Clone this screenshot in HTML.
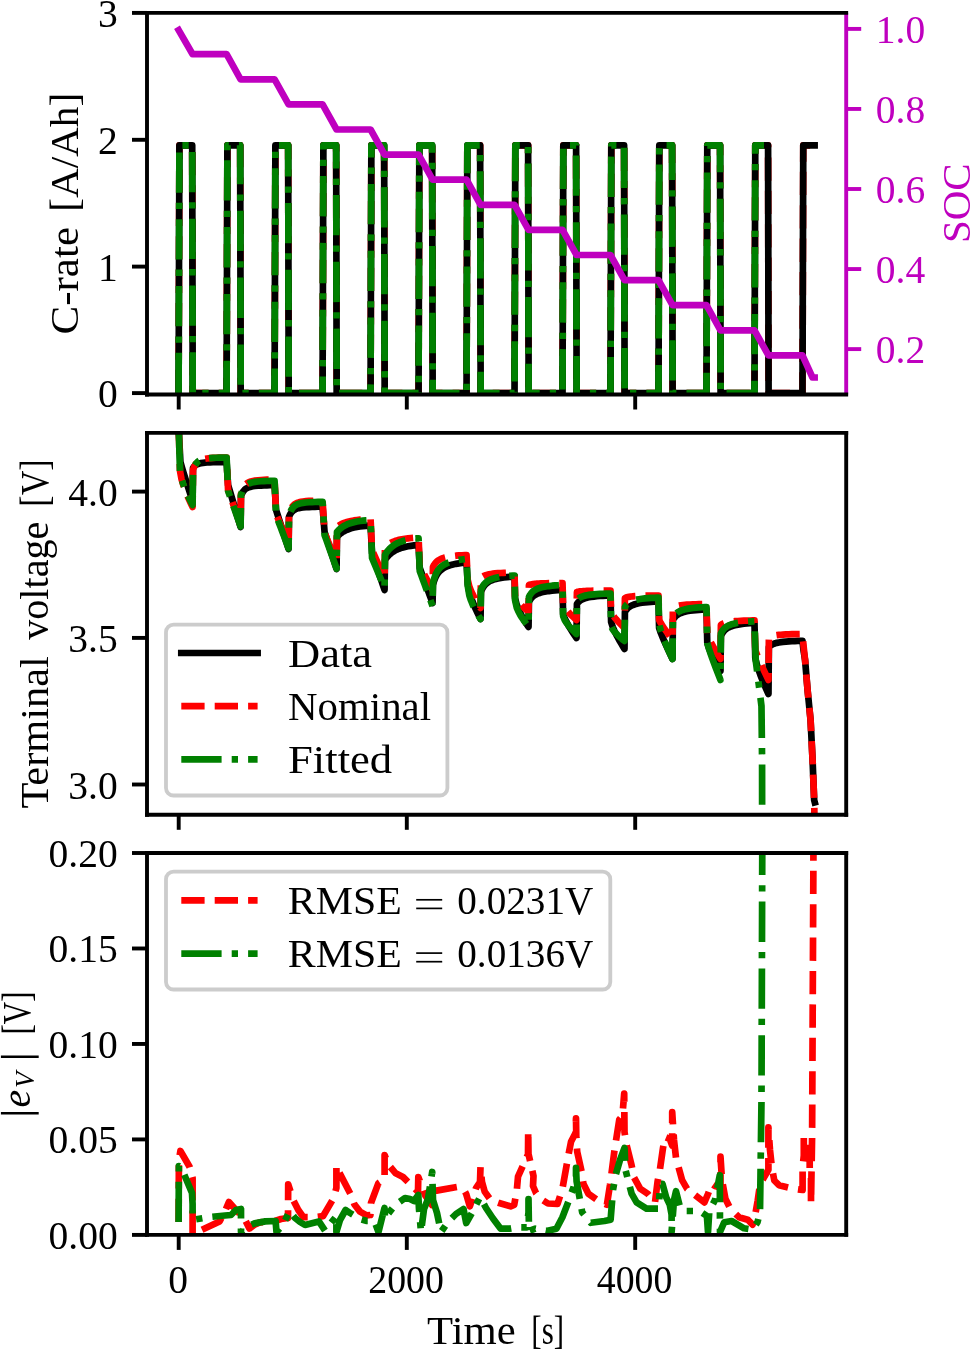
<!DOCTYPE html><html><head><meta charset="utf-8"><style>html,body{margin:0;padding:0;background:#fff}svg{display:block;will-change:transform}text{font-family:"Liberation Serif",serif}</style></head><body>
<svg width="971" height="1354" viewBox="0 0 971 1354">
<rect width="971" height="1354" fill="#fff"/>
<defs>
<clipPath id="ct"><rect x="147" y="12.9" width="699.2" height="381.6"/></clipPath>
<clipPath id="cm"><rect x="147" y="432.9" width="699.2" height="381.9"/></clipPath>
<clipPath id="cb"><rect x="147" y="853" width="699.2" height="381.9"/></clipPath>
</defs>
<polyline fill="none" stroke="#ff0000" stroke-width="6.7" stroke-linejoin="round" stroke-linecap="butt" stroke-dasharray="23.3 10.1" clip-path="url(#ct)" points="178.6,393.1 179.4,145.3 192.2,145.3 192.7,393.1 226.59,393.1 227.39,145.3 240.19,145.3 240.69,393.1 274.58,393.1 275.38,145.3 288.18,145.3 288.68,393.1 322.57,393.1 323.37,145.3 336.17,145.3 336.67,393.1 370.56,393.1 371.36,145.3 384.16,145.3 384.66,393.1 418.55,393.1 419.35,145.3 432.15,145.3 432.65,393.1 466.54,393.1 467.34,145.3 480.14,145.3 480.64,393.1 514.53,393.1 515.33,145.3 528.13,145.3 528.63,393.1 562.52,393.1 563.32,145.3 576.12,145.3 576.62,393.1 610.51,393.1 611.31,145.3 624.11,145.3 624.61,393.1 658.5,393.1 659.3,145.3 672.1,145.3 672.6,393.1 706.49,393.1 707.29,145.3 720.09,145.3 720.59,393.1 754.48,393.1 755.28,145.3 768.08,145.3 768.58,393.1 802.47,393.1 803.27,145.3 814.6,145.3"/>
<polyline fill="none" stroke="#000000" stroke-width="6.7" stroke-linejoin="round" stroke-linecap="square" clip-path="url(#ct)" points="178.6,393.1 179.4,145.3 192.2,145.3 192.7,393.1 226.59,393.1 227.39,145.3 240.19,145.3 240.69,393.1 274.58,393.1 275.38,145.3 288.18,145.3 288.68,393.1 322.57,393.1 323.37,145.3 336.17,145.3 336.67,393.1 370.56,393.1 371.36,145.3 384.16,145.3 384.66,393.1 418.55,393.1 419.35,145.3 432.15,145.3 432.65,393.1 466.54,393.1 467.34,145.3 480.14,145.3 480.64,393.1 514.53,393.1 515.33,145.3 528.13,145.3 528.63,393.1 562.52,393.1 563.32,145.3 576.12,145.3 576.62,393.1 610.51,393.1 611.31,145.3 624.11,145.3 624.61,393.1 658.5,393.1 659.3,145.3 672.1,145.3 672.6,393.1 706.49,393.1 707.29,145.3 720.09,145.3 720.59,393.1 754.48,393.1 755.28,145.3 768.08,145.3 768.58,393.1 802.47,393.1 803.27,145.3 814.6,145.3"/>
<polyline fill="none" stroke="#008000" stroke-width="6.7" stroke-linejoin="round" stroke-linecap="butt" stroke-dasharray="40.3 10.1 6.3 10.1" clip-path="url(#ct)" points="178.6,393.1 179.4,145.3 192.2,145.3 192.7,393.1 226.59,393.1 227.39,145.3 240.19,145.3 240.69,393.1 274.58,393.1 275.38,145.3 288.18,145.3 288.68,393.1 322.57,393.1 323.37,145.3 336.17,145.3 336.67,393.1 370.56,393.1 371.36,145.3 384.16,145.3 384.66,393.1 418.55,393.1 419.35,145.3 432.15,145.3 432.65,393.1 466.54,393.1 467.34,145.3 480.14,145.3 480.64,393.1 514.53,393.1 515.33,145.3 528.13,145.3 528.63,393.1 562.52,393.1 563.32,145.3 576.12,145.3 576.62,393.1 610.51,393.1 611.31,145.3 624.11,145.3 624.61,393.1 658.5,393.1 659.3,145.3 672.1,145.3 672.6,393.1 706.49,393.1 707.29,145.3 720.09,145.3 720.59,393.1 754.48,393.1 755.28,145.3 764,145.3"/>
<polyline fill="none" stroke="#bf00bf" stroke-width="6.7" stroke-linejoin="round" stroke-linecap="square" points="178.7,30.2 192.6,54.2 226.59,54.2 240.59,79.3 274.58,79.3 288.58,104.4 322.57,104.4 336.57,129.5 370.56,129.5 384.56,154.6 418.55,154.6 432.55,179.7 466.54,179.7 480.54,204.8 514.53,204.8 528.53,229.9 562.52,229.9 576.52,255 610.51,255 624.51,280.1 658.5,280.1 672.5,305.2 706.49,305.2 720.49,330.3 754.48,330.3 768.48,355.4 802.47,355.4 812.5,377.5 814.6,377.5"/>
<polyline fill="none" stroke="#000000" stroke-width="6.7" stroke-linejoin="round" stroke-linecap="square" clip-path="url(#cm)" points="178.3,431 178.8,431 180.4,462 181.93,467.41 183.45,472.45 184.97,477.36 186.5,482.19 188.03,486.95 189.55,491.67 191.08,496.35 192.6,501 193,468 193.6,467.16 194.2,466.45 195,465.68 196,464.93 197,464.37 198,463.93 199.5,463.46 201,463.12 203,462.82 205,462.61 207,462.46 210,462.31 213,462.2 216,462.13 219,462.08 222,462.04 225,462.01 226.59,462 228.09,485 229.65,490.25 231.22,495.5 232.78,500.75 234.34,506 235.9,511.25 237.47,516.5 239.03,521.75 240.59,527 240.99,496 241.59,494.48 242.19,493.21 242.99,491.83 243.99,490.48 244.99,489.46 245.99,488.68 247.49,487.82 248.99,487.22 250.99,486.67 252.99,486.29 254.99,486.03 257.99,485.75 260.99,485.56 263.99,485.43 266.99,485.34 269.99,485.27 272.99,485.22 274.58,485.2 276.08,510 277.64,514.88 279.2,519.75 280.77,524.62 282.33,529.5 283.89,534.38 285.45,539.25 287.02,544.12 288.58,549 288.98,517 289.58,515.55 290.18,514.34 290.98,513.02 291.98,511.74 292.98,510.77 293.98,510.02 295.48,509.2 296.98,508.63 298.98,508.1 300.98,507.74 302.98,507.49 305.98,507.22 308.98,507.05 311.98,506.92 314.98,506.83 317.98,506.77 320.98,506.72 322.57,506.7 324.57,532 326.07,536.62 327.57,541.25 329.07,545.88 330.57,550.5 332.07,555.12 333.57,559.75 335.07,564.38 336.57,569 336.97,537 337.57,536.31 338.17,535.66 338.97,534.87 339.97,533.98 340.97,533.18 341.97,532.47 343.47,531.52 344.97,530.7 346.97,529.77 348.97,529 350.97,528.35 353.97,527.57 356.97,526.97 359.97,526.5 362.97,526.13 365.97,525.84 368.97,525.6 370.56,525.5 372.06,553 373.62,557.62 375.19,562.25 376.75,566.88 378.31,571.5 379.87,576.12 381.44,580.75 383,585.38 384.56,590 384.96,560 385.56,559.1 386.16,558.26 386.96,557.23 387.96,556.06 388.96,555.02 389.96,554.09 391.46,552.85 392.96,551.78 394.96,550.57 396.96,549.56 398.96,548.72 401.96,547.7 404.96,546.91 407.96,546.3 410.96,545.82 413.96,545.44 416.96,545.14 418.55,545 419.75,568 421.35,572.38 422.95,576.75 424.55,581.12 426.15,585.5 427.75,589.88 429.35,594.25 430.95,598.62 432.55,603 432.95,585 433.55,582.78 434.15,580.87 434.95,578.7 435.95,576.47 436.95,574.66 437.95,573.17 439.45,571.37 440.95,569.95 442.95,568.47 444.95,567.31 446.95,566.38 449.95,565.3 452.95,564.47 455.95,563.84 458.95,563.34 461.95,562.95 464.95,562.64 466.54,562.5 467.74,584 469.34,592.16 470.94,597.26 472.54,601.62 474.14,605.55 475.74,609.19 477.34,612.62 478.94,615.88 480.54,619 480.94,592 481.54,590.47 482.14,589.15 482.94,587.66 483.94,586.12 484.94,584.88 485.94,583.85 487.44,582.61 488.94,581.63 490.94,580.61 492.94,579.81 494.94,579.17 497.94,578.43 500.94,577.86 503.94,577.42 506.94,577.08 509.94,576.81 512.94,576.6 514.53,576.5 515.03,598 516.72,604.76 518.4,608.99 520.09,612.6 521.78,615.85 523.47,618.87 525.15,621.71 526.84,624.41 528.53,627 528.93,602 529.53,600.82 530.13,599.8 530.93,598.64 531.93,597.45 532.93,596.49 533.93,595.69 535.43,594.73 536.93,593.97 538.93,593.18 540.93,592.57 542.93,592.07 545.93,591.49 548.93,591.05 551.93,590.71 554.93,590.45 557.93,590.24 560.93,590.07 562.52,590 563.12,614 564.79,618.55 566.47,621.92 568.14,624.95 569.82,627.78 571.5,630.48 573.17,633.07 574.85,635.57 576.52,638 576.92,604 577.52,603.16 578.12,602.44 578.92,601.62 579.92,600.78 580.92,600.09 581.92,599.53 583.42,598.85 584.92,598.31 586.92,597.75 588.92,597.32 590.92,596.97 593.92,596.56 596.92,596.25 599.92,596.01 602.92,595.82 605.92,595.67 608.92,595.55 610.51,595.5 611.11,622 612.78,627.12 614.46,630.91 616.13,634.32 617.81,637.51 619.49,640.54 621.16,643.45 622.84,646.26 624.51,649 624.91,612 625.51,610.97 626.11,610.07 626.91,609.06 627.91,608.02 628.91,607.17 629.91,606.48 631.41,605.64 632.91,604.98 634.91,604.28 636.91,603.74 638.91,603.31 641.91,602.8 644.91,602.42 647.91,602.12 650.91,601.89 653.91,601.71 656.91,601.57 658.5,601.5 659.1,628 660.77,632.77 662.45,636.9 664.12,640.82 665.8,644.61 667.48,648.31 669.15,651.93 670.83,655.49 672.5,659 672.9,620 673.5,618.97 674.1,618.07 674.9,617.06 675.9,616.02 676.9,615.17 677.9,614.48 679.4,613.64 680.9,612.98 682.9,612.28 684.9,611.74 686.9,611.31 689.9,610.8 692.9,610.42 695.9,610.12 698.9,609.89 701.9,609.71 704.9,609.57 706.49,609.5 707.29,643 708.94,648.31 710.59,652.24 712.24,655.78 713.89,659.08 715.54,662.22 717.19,665.24 718.84,668.16 720.49,671 720.89,636 721.49,634.72 722.09,633.61 722.89,632.36 723.89,631.07 724.89,630.03 725.89,629.16 727.39,628.12 728.89,627.3 730.89,626.45 732.89,625.78 734.89,625.24 737.89,624.62 740.89,624.14 743.89,623.77 746.89,623.49 749.89,623.26 752.89,623.08 754.48,623 755.28,658 756.93,664.82 758.58,669.88 760.23,674.43 761.88,678.68 763.53,682.72 765.18,686.6 766.83,690.35 768.48,694 768.88,647 769.48,646.39 770.08,645.86 770.88,645.26 771.88,644.65 772.88,644.15 773.88,643.74 775.38,643.24 776.88,642.85 778.88,642.44 780.88,642.13 782.88,641.87 785.88,641.57 788.88,641.34 791.88,641.17 794.88,641.03 797.88,640.92 800.88,640.84 802.47,640.8 803.47,650 805.07,660 807.57,690 810.57,720 812.57,760 814.17,800 814.77,802.3"/>
<polyline fill="none" stroke="#ff0000" stroke-width="6.7" stroke-linejoin="round" stroke-linecap="butt" stroke-dasharray="23.3 10.1" clip-path="url(#cm)" points="178.3,431 178.8,431 180,471 181.57,479.4 183.15,484.64 184.72,489.12 186.3,493.16 187.88,496.91 189.45,500.43 191.03,503.79 192.6,507 193,470 193.6,468.24 194.2,466.77 195,465.17 196,463.61 197,462.43 198,461.53 199.5,460.54 201,459.84 203,459.2 205,458.76 207,458.46 210,458.14 213,457.92 216,457.77 219,457.66 222,457.58 225,457.53 226.59,457.5 228.09,490 229.65,494.38 231.22,498.75 232.78,503.12 234.34,507.5 235.9,511.88 237.47,516.25 239.03,520.62 240.59,525 240.99,494 241.59,491.96 242.19,490.25 242.99,488.4 243.99,486.59 244.99,485.22 245.99,484.17 247.49,483.02 248.99,482.21 250.99,481.47 252.99,480.97 254.99,480.61 257.99,480.24 260.99,479.99 263.99,479.82 266.99,479.69 269.99,479.6 272.99,479.53 274.58,479.5 276.08,514 277.64,517.75 279.2,521.5 280.77,525.25 282.33,529 283.89,532.75 285.45,536.5 287.02,540.25 288.58,544 288.98,514 289.58,512.1 290.18,510.51 290.98,508.78 291.98,507.1 292.98,505.83 293.98,504.85 295.48,503.78 296.98,503.03 298.98,502.33 300.98,501.87 302.98,501.53 305.98,501.19 308.98,500.96 311.98,500.79 314.98,500.68 317.98,500.59 320.98,500.53 322.57,500.5 324.57,533 326.07,536.62 327.57,540.25 329.07,543.88 330.57,547.5 332.07,551.12 333.57,554.75 335.07,558.38 336.57,562 336.97,527 337.57,526.52 338.17,526.07 338.97,525.52 339.97,524.9 340.97,524.35 341.97,523.85 343.47,523.19 344.97,522.61 346.97,521.97 348.97,521.43 350.97,520.98 353.97,520.44 356.97,520.02 359.97,519.69 362.97,519.44 365.97,519.23 368.97,519.07 370.56,519 372.06,550 373.62,553.56 375.19,557.12 376.75,560.69 378.31,564.25 379.87,567.81 381.44,571.38 383,574.94 384.56,578.5 384.96,547 385.56,546.43 386.16,545.9 386.96,545.24 387.96,544.51 388.96,543.85 389.96,543.25 391.46,542.47 392.96,541.79 394.96,541.03 396.96,540.39 398.96,539.85 401.96,539.21 404.96,538.71 407.96,538.32 410.96,538.02 413.96,537.78 416.96,537.59 418.55,537.5 419.75,566 421.35,569 422.95,572 424.55,575 426.15,578 427.75,581 429.35,584 430.95,587 432.55,590 432.95,567 433.55,565.82 434.15,564.8 434.95,563.64 435.95,562.45 436.95,561.49 437.95,560.69 439.45,559.73 440.95,558.97 442.95,558.18 444.95,557.57 446.95,557.07 449.95,556.49 452.95,556.05 455.95,555.71 458.95,555.45 461.95,555.24 464.95,555.07 466.54,555 467.74,580 469.34,586.53 470.94,590.61 472.54,594.09 474.14,597.24 475.74,600.15 477.34,602.89 478.94,605.5 480.54,608 480.94,578 481.54,577.46 482.14,576.99 482.94,576.46 483.94,575.91 484.94,575.47 485.94,575.11 487.44,574.67 488.94,574.32 490.94,573.96 492.94,573.68 494.94,573.45 497.94,573.18 500.94,572.98 503.94,572.83 506.94,572.71 509.94,572.61 512.94,572.53 514.53,572.5 515.03,596 516.72,599.66 518.4,601.95 520.09,603.9 521.78,605.66 523.47,607.3 525.15,608.84 526.84,610.3 528.53,611.7 528.93,585 529.53,584.8 530.13,584.63 530.93,584.44 531.93,584.24 532.93,584.08 533.93,583.95 535.43,583.79 536.93,583.66 538.93,583.53 540.93,583.43 542.93,583.35 545.93,583.25 548.93,583.18 551.93,583.12 554.93,583.07 557.93,583.04 560.93,583.01 562.52,583 563.12,605 564.79,607.84 566.47,609.95 568.14,611.84 569.82,613.62 571.5,615.3 573.17,616.92 574.85,618.48 576.52,620 576.92,592 577.52,591.85 578.12,591.72 578.92,591.58 579.92,591.43 580.92,591.31 581.92,591.21 583.42,591.09 584.92,591 586.92,590.9 588.92,590.82 590.92,590.76 593.92,590.69 596.92,590.63 599.92,590.59 602.92,590.56 605.92,590.53 608.92,590.51 610.51,590.5 611.11,612 612.78,615.03 614.46,617.28 616.13,619.3 617.81,621.19 619.49,622.99 621.16,624.71 622.84,626.38 624.51,628 624.91,598 625.51,597.75 626.11,597.54 626.91,597.3 627.91,597.05 628.91,596.85 629.91,596.69 631.41,596.49 632.91,596.33 634.91,596.16 636.91,596.03 638.91,595.93 641.91,595.81 644.91,595.72 647.91,595.65 650.91,595.59 653.91,595.55 656.91,595.52 658.5,595.5 659.1,620 660.77,623.08 662.45,625.74 664.12,628.27 665.8,630.72 667.48,633.1 669.15,635.44 670.83,637.74 672.5,640 672.9,608 673.5,607.61 674.1,607.27 674.9,606.88 675.9,606.48 676.9,606.16 677.9,605.9 679.4,605.58 680.9,605.32 682.9,605.06 684.9,604.86 686.9,604.69 689.9,604.5 692.9,604.35 695.9,604.24 698.9,604.15 701.9,604.08 704.9,604.02 706.49,604 707.29,635 708.94,638.69 710.59,641.89 712.24,644.93 713.89,647.86 715.54,650.72 717.19,653.53 718.84,656.28 720.49,659 720.89,625 721.49,624.55 722.09,624.16 722.89,623.71 723.89,623.26 724.89,622.89 725.89,622.58 727.39,622.21 728.89,621.92 730.89,621.62 732.89,621.38 734.89,621.19 737.89,620.97 740.89,620.8 743.89,620.67 746.89,620.57 749.89,620.49 752.89,620.43 754.48,620.4 755.28,650 756.93,654.62 758.58,658.62 760.23,662.41 761.88,666.08 763.53,669.65 765.18,673.16 766.83,676.6 768.48,680 768.88,637.5 769.48,637.16 770.08,636.86 770.88,636.52 771.88,636.17 772.88,635.89 773.88,635.66 775.38,635.38 776.88,635.16 778.88,634.93 780.88,634.75 782.88,634.6 785.88,634.43 788.88,634.31 791.88,634.21 794.88,634.13 797.88,634.07 800.88,634.02 802.47,634 803.47,645 805.07,660 807.57,690 810.57,720 812.57,760 814.17,800 814.97,850"/>
<polyline fill="none" stroke="#008000" stroke-width="6.7" stroke-linejoin="round" stroke-linecap="butt" stroke-dasharray="40.3 10.1 6.3 10.1" clip-path="url(#cm)" points="178.3,431 178.8,431 180,471 181.57,478.93 183.15,483.88 184.72,488.11 186.3,491.93 187.88,495.47 189.45,498.8 191.03,501.97 192.6,505 193,470 193.6,468.24 194.2,466.77 195,465.17 196,463.61 197,462.43 198,461.53 199.5,460.54 201,459.84 203,459.2 205,458.76 207,458.46 210,458.14 213,457.92 216,457.77 219,457.66 222,457.58 225,457.53 226.59,457.5 228.09,491 229.65,495.43 231.22,499.85 232.78,504.27 234.34,508.7 235.9,513.12 237.47,517.55 239.03,521.98 240.59,526.4 240.99,495 241.59,493 242.19,491.33 242.99,489.51 243.99,487.75 244.99,486.41 245.99,485.38 247.49,484.25 248.99,483.46 250.99,482.73 252.99,482.24 254.99,481.89 257.99,481.52 260.99,481.28 263.99,481.11 266.99,480.99 269.99,480.9 272.99,480.83 274.58,480.8 276.08,515.3 277.64,519.42 279.2,523.55 280.77,527.67 282.33,531.8 283.89,535.92 285.45,540.05 287.02,544.17 288.58,548.3 288.98,516 289.58,514 290.18,512.33 290.98,510.51 291.98,508.75 292.98,507.41 293.98,506.38 295.48,505.25 296.98,504.46 298.98,503.73 300.98,503.24 302.98,502.89 305.98,502.52 308.98,502.28 311.98,502.11 314.98,501.99 317.98,501.9 320.98,501.83 322.57,501.8 324.57,535 326.07,539.19 327.57,543.38 329.07,547.56 330.57,551.75 332.07,555.94 333.57,560.12 335.07,564.31 336.57,568.5 336.97,532 337.57,531.28 338.17,530.6 338.97,529.78 339.97,528.85 340.97,528.02 341.97,527.27 343.47,526.28 344.97,525.42 346.97,524.45 348.97,523.65 350.97,522.97 353.97,522.16 356.97,521.53 359.97,521.04 362.97,520.66 365.97,520.35 368.97,520.11 370.56,520 372.06,558 373.62,561.75 375.19,565.5 376.75,569.25 378.31,573 379.87,576.75 381.44,580.5 383,584.25 384.56,588 384.96,555 385.56,553.99 386.16,553.06 386.96,551.91 387.96,550.62 388.96,549.46 389.96,548.42 391.46,547.04 392.96,545.85 394.96,544.5 396.96,543.38 398.96,542.44 401.96,541.31 404.96,540.43 407.96,539.75 410.96,539.21 413.96,538.79 416.96,538.45 418.55,538.3 419.75,571 421.35,575.38 422.95,579.75 424.55,584.12 426.15,588.5 427.75,592.88 429.35,597.25 430.95,601.62 432.55,606 432.95,583 433.55,580.64 434.15,578.59 434.95,576.28 435.95,573.9 436.95,571.97 437.95,570.38 439.45,568.46 440.95,566.95 442.95,565.37 444.95,564.13 446.95,563.14 449.95,561.98 452.95,561.1 455.95,560.43 458.95,559.9 461.95,559.48 464.95,559.15 466.54,559 467.74,586 469.34,595.48 470.94,600.36 472.54,604.32 474.14,607.77 475.74,610.89 477.34,613.77 478.94,616.46 480.54,619 480.94,590 481.54,588.57 482.14,587.34 482.94,585.94 483.94,584.5 484.94,583.34 485.94,582.37 487.44,581.22 488.94,580.3 490.94,579.35 492.94,578.6 494.94,578 497.94,577.3 500.94,576.77 503.94,576.36 506.94,576.04 509.94,575.79 512.94,575.59 514.53,575.5 515.03,600 516.72,607.61 518.4,611.53 520.09,614.71 521.78,617.48 523.47,619.99 525.15,622.3 526.84,624.46 528.53,626.5 528.93,597 529.53,595.82 530.13,594.8 530.93,593.64 531.93,592.45 532.93,591.49 533.93,590.69 535.43,589.73 536.93,588.97 538.93,588.18 540.93,587.57 542.93,587.07 545.93,586.49 548.93,586.05 551.93,585.71 554.93,585.45 557.93,585.24 560.93,585.07 562.52,585 563.12,616 564.79,620.2 566.47,622.82 568.14,625.06 569.82,627.08 571.5,628.95 573.17,630.72 574.85,632.39 576.52,634 576.92,600 577.52,599.36 578.12,598.81 578.92,598.18 579.92,597.54 580.92,597.01 581.92,596.58 583.42,596.06 584.92,595.65 586.92,595.22 588.92,594.89 590.92,594.62 593.92,594.31 596.92,594.07 599.92,593.89 602.92,593.74 605.92,593.63 608.92,593.54 610.51,593.5 611.11,626 612.78,629.5 614.46,631.68 616.13,633.55 617.81,635.23 619.49,636.79 621.16,638.26 622.84,639.66 624.51,641 624.91,607 625.51,606.07 626.11,605.27 626.91,604.37 627.91,603.44 628.91,602.68 629.91,602.06 631.41,601.3 632.91,600.71 634.91,600.09 636.91,599.61 638.91,599.22 641.91,598.77 644.91,598.42 647.91,598.16 650.91,597.95 653.91,597.79 656.91,597.66 658.5,597.6 659.1,624 660.77,630.63 662.45,635.55 664.12,639.97 665.8,644.1 667.48,648.03 669.15,651.8 670.83,655.45 672.5,659 672.9,618 673.5,616.92 674.1,615.98 674.9,614.92 675.9,613.83 676.9,612.94 677.9,612.22 679.4,611.34 680.9,610.64 682.9,609.92 684.9,609.35 686.9,608.9 689.9,608.37 692.9,607.96 695.9,607.65 698.9,607.41 701.9,607.22 704.9,607.07 706.49,607 707.29,643 708.94,648.69 710.59,653.63 712.24,658.3 713.89,662.83 715.54,667.24 717.19,671.56 718.84,675.81 720.49,680 720.89,633.5 721.49,632.3 722.09,631.26 722.89,630.08 723.89,628.87 724.89,627.89 725.89,627.08 727.39,626.11 728.89,625.34 730.89,624.54 732.89,623.91 734.89,623.41 737.89,622.82 740.89,622.37 743.89,622.03 746.89,621.76 749.89,621.55 752.89,621.38 754.48,621.3 755.68,660 761.48,706 762.08,760 762.28,1000"/>
<polyline fill="none" stroke="#ff0000" stroke-width="6.7" stroke-linejoin="round" stroke-linecap="butt" stroke-dasharray="23.3 10.1" clip-path="url(#cb)" points="178.6,1222 178.9,1160 180.4,1151 184.5,1158 189.7,1167 192.6,1178 192.6,1233 196,1234 200,1230.6 210,1226 219.6,1221.4 224.7,1212 228.9,1202 236,1210 244.3,1218.3 249.4,1228.6 254,1225 259.7,1222.4 270,1221.5 275,1221 281,1219 288,1218 288.2,1184.3 293.1,1199.7 298.3,1210 303.4,1217.2 314.7,1217.2 323,1216.2 333.3,1198.7 336.4,1188 336.4,1165.7 338,1170 350.8,1194.6 354.3,1204.2 360,1211.6 366.6,1215.3 370.4,1215 371,1203 378.4,1183.2 384.6,1179 384.6,1155 388.3,1164.6 395.7,1173.3 403,1177 418,1191.8 418.3,1177 425.3,1195.5 432,1205 432.4,1190 436.5,1190.6 457.5,1186.9 464,1190 466.2,1194 469.8,1206.4 472,1200 476,1188 480,1182 480.5,1167 482,1182 484.7,1191.6 490.8,1200.2 498.3,1202.7 510.6,1206.4 514.2,1205 516.8,1190.3 518,1176.7 528,1154.5 528.2,1131 528.5,1154 533.5,1176 533,1186 536,1193 541,1199 548,1203.5 557.5,1204 562.4,1188.8 568.6,1154.2 571,1141.8 575.4,1133.2 576,1118.3 576.3,1138 577.2,1151.7 581.6,1171.5 583.4,1183.8 588.4,1193.7 597,1199.9 606.9,1204.8 610,1185 614.3,1151.7 619.3,1119.6 622.4,1115.8 624.2,1093.6 624.5,1132 626.7,1145.5 631.6,1165.3 634.1,1177.7 640.3,1188.8 647.7,1193.7 655,1202.4 657.6,1181.4 660,1169 663,1148 665,1137 669.8,1139 672.2,1145.5 672.2,1112.1 674,1140 676,1157.9 682.1,1180.1 687.1,1188.8 704.4,1202.4 708.1,1193.7 711.8,1183.8 715,1186 720.5,1187.5 720.5,1156.6 722,1180 725.4,1198.7 730.3,1208.6 739,1217.2 747.7,1219.7 752.6,1224.6 755.4,1213.6 757.7,1200.6 760.1,1184 768.4,1169.8 768.4,1127.3 770,1150 771.9,1167.5 774.3,1180.5 779,1185.2 793.2,1188.7 802.6,1190 802.6,1167.5 803.8,1155.6 803.8,1138 809.7,1141.5 809.7,1169.8 811,1175.7 811,1203 812.1,1136.7 813.5,840"/>
<polyline fill="none" stroke="#008000" stroke-width="6.7" stroke-linejoin="round" stroke-linecap="butt" stroke-dasharray="40.3 10.1 6.3 10.1" clip-path="url(#cb)" points="178.6,1222 178.9,1166 181,1167 192,1193 192.6,1204 192.6,1220 196,1219.3 210,1217 225,1215.5 231,1215 236,1210 241,1209 241,1232 247.4,1226.5 254.6,1223.4 265.3,1221.4 275.6,1221 276.5,1232 283,1225 289.5,1211 295,1218 300,1222 305,1225 318.9,1221.4 325,1230.6 336.4,1216.2 336.4,1232 340,1220 345.6,1210 350,1213 355,1216 360,1219 367,1221 370.4,1221 374.6,1221.5 378.5,1232 384.5,1208 385,1219 388,1214 395,1205 405,1198 410,1199 414,1201 418.3,1195 419,1209 421,1232 424,1209 428,1199 432.2,1172 433,1200 437,1213 441,1232 448,1222 456,1214 463.5,1209 466.2,1223 473,1211 480,1197 486,1208 493,1218.5 500.7,1228.7 509.4,1228.7 516.8,1227.4 526.7,1227.4 528.5,1212.6 528.5,1199 529,1231 535.3,1228.7 546.5,1231 556.4,1228.7 562.4,1217.2 568.6,1201.1 573.5,1187.5 576,1176.4 576,1167.8 576.6,1181.4 582.2,1212.3 590.8,1222.8 604.4,1221 610.6,1219.7 613,1190 615.6,1175.2 620,1160 624.5,1148 625.5,1170 631.6,1193.7 636.6,1202.4 646.5,1208.6 658.8,1208.6 660,1183.8 662.5,1183.8 666.2,1197.4 669.8,1204.8 671.6,1214.7 671.6,1232 674,1200 676,1191.2 679.7,1206 683.4,1211 699.4,1211 706.9,1216 708,1232 709.3,1211 715,1200 719.8,1175.2 720,1232 724.2,1222.2 731.6,1221 744,1228.3 752.6,1229.6 757.5,1222.2 760,1212.3 761.5,1100 762.3,840"/>
<line x1="178.7" y1="394.5" x2="178.7" y2="409.5" stroke="#000" stroke-width="3.9" stroke-linecap="butt"/>
<line x1="406.8" y1="394.5" x2="406.8" y2="409.5" stroke="#000" stroke-width="3.9" stroke-linecap="butt"/>
<line x1="635.2" y1="394.5" x2="635.2" y2="409.5" stroke="#000" stroke-width="3.9" stroke-linecap="butt"/>
<line x1="178.7" y1="814.8" x2="178.7" y2="829.8" stroke="#000" stroke-width="3.9" stroke-linecap="butt"/>
<line x1="406.8" y1="814.8" x2="406.8" y2="829.8" stroke="#000" stroke-width="3.9" stroke-linecap="butt"/>
<line x1="635.2" y1="814.8" x2="635.2" y2="829.8" stroke="#000" stroke-width="3.9" stroke-linecap="butt"/>
<line x1="178.7" y1="1234.9" x2="178.7" y2="1249.9" stroke="#000" stroke-width="3.9" stroke-linecap="butt"/>
<line x1="406.8" y1="1234.9" x2="406.8" y2="1249.9" stroke="#000" stroke-width="3.9" stroke-linecap="butt"/>
<line x1="635.2" y1="1234.9" x2="635.2" y2="1249.9" stroke="#000" stroke-width="3.9" stroke-linecap="butt"/>
<line x1="132" y1="12.9" x2="147" y2="12.9" stroke="#000" stroke-width="3.9" stroke-linecap="butt"/>
<line x1="132" y1="139.8" x2="147" y2="139.8" stroke="#000" stroke-width="3.9" stroke-linecap="butt"/>
<line x1="132" y1="266.6" x2="147" y2="266.6" stroke="#000" stroke-width="3.9" stroke-linecap="butt"/>
<line x1="132" y1="393.1" x2="147" y2="393.1" stroke="#000" stroke-width="3.9" stroke-linecap="butt"/>
<line x1="846.2" y1="28.9" x2="861.2" y2="28.9" stroke="#bf00bf" stroke-width="3.9" stroke-linecap="butt"/>
<line x1="846.2" y1="108.95" x2="861.2" y2="108.95" stroke="#bf00bf" stroke-width="3.9" stroke-linecap="butt"/>
<line x1="846.2" y1="189" x2="861.2" y2="189" stroke="#bf00bf" stroke-width="3.9" stroke-linecap="butt"/>
<line x1="846.2" y1="269.05" x2="861.2" y2="269.05" stroke="#bf00bf" stroke-width="3.9" stroke-linecap="butt"/>
<line x1="846.2" y1="349.1" x2="861.2" y2="349.1" stroke="#bf00bf" stroke-width="3.9" stroke-linecap="butt"/>
<line x1="132" y1="491.6" x2="147" y2="491.6" stroke="#000" stroke-width="3.9" stroke-linecap="butt"/>
<line x1="132" y1="637.9" x2="147" y2="637.9" stroke="#000" stroke-width="3.9" stroke-linecap="butt"/>
<line x1="132" y1="784.5" x2="147" y2="784.5" stroke="#000" stroke-width="3.9" stroke-linecap="butt"/>
<line x1="132" y1="853" x2="147" y2="853" stroke="#000" stroke-width="3.9" stroke-linecap="butt"/>
<line x1="132" y1="948.48" x2="147" y2="948.48" stroke="#000" stroke-width="3.9" stroke-linecap="butt"/>
<line x1="132" y1="1043.95" x2="147" y2="1043.95" stroke="#000" stroke-width="3.9" stroke-linecap="butt"/>
<line x1="132" y1="1139.42" x2="147" y2="1139.42" stroke="#000" stroke-width="3.9" stroke-linecap="butt"/>
<line x1="132" y1="1234.9" x2="147" y2="1234.9" stroke="#000" stroke-width="3.9" stroke-linecap="butt"/>
<line x1="846.2" y1="12.9" x2="846.2" y2="394.5" stroke="#bf00bf" stroke-width="3.9" stroke-linecap="butt"/>
<line x1="147" y1="12.9" x2="147" y2="394.5" stroke="#000" stroke-width="3.9" stroke-linecap="square"/>
<line x1="147" y1="12.9" x2="846.2" y2="12.9" stroke="#000" stroke-width="3.9" stroke-linecap="square"/>
<line x1="147" y1="394.5" x2="846.2" y2="394.5" stroke="#000" stroke-width="3.9" stroke-linecap="square"/>
<line x1="846.2" y1="432.9" x2="846.2" y2="814.8" stroke="#000" stroke-width="3.9" stroke-linecap="square"/>
<line x1="147" y1="432.9" x2="147" y2="814.8" stroke="#000" stroke-width="3.9" stroke-linecap="square"/>
<line x1="147" y1="432.9" x2="846.2" y2="432.9" stroke="#000" stroke-width="3.9" stroke-linecap="square"/>
<line x1="147" y1="814.8" x2="846.2" y2="814.8" stroke="#000" stroke-width="3.9" stroke-linecap="square"/>
<line x1="846.2" y1="853" x2="846.2" y2="1234.9" stroke="#000" stroke-width="3.9" stroke-linecap="square"/>
<line x1="147" y1="853" x2="147" y2="1234.9" stroke="#000" stroke-width="3.9" stroke-linecap="square"/>
<line x1="147" y1="853" x2="846.2" y2="853" stroke="#000" stroke-width="3.9" stroke-linecap="square"/>
<line x1="147" y1="1234.9" x2="846.2" y2="1234.9" stroke="#000" stroke-width="3.9" stroke-linecap="square"/>
<text x="117.7" y="26.9" font-size="39.5" fill="#000" text-anchor="end">3</text>
<text x="117.7" y="153.8" font-size="39.5" fill="#000" text-anchor="end">2</text>
<text x="117.7" y="280.6" font-size="39.5" fill="#000" text-anchor="end">1</text>
<text x="117.7" y="407.1" font-size="39.5" fill="#000" text-anchor="end">0</text>
<text x="117.7" y="505.6" font-size="39.5" fill="#000" text-anchor="end">4.0</text>
<text x="117.7" y="651.9" font-size="39.5" fill="#000" text-anchor="end">3.5</text>
<text x="117.7" y="798.5" font-size="39.5" fill="#000" text-anchor="end">3.0</text>
<text x="117.7" y="867" font-size="39.5" fill="#000" text-anchor="end">0.20</text>
<text x="117.7" y="962.48" font-size="39.5" fill="#000" text-anchor="end">0.15</text>
<text x="117.7" y="1057.95" font-size="39.5" fill="#000" text-anchor="end">0.10</text>
<text x="117.7" y="1153.42" font-size="39.5" fill="#000" text-anchor="end">0.05</text>
<text x="117.7" y="1248.9" font-size="39.5" fill="#000" text-anchor="end">0.00</text>
<text x="875.8" y="43.2" font-size="39.5" fill="#bf00bf">1.0</text>
<text x="875.8" y="123.25" font-size="39.5" fill="#bf00bf">0.8</text>
<text x="875.8" y="203.3" font-size="39.5" fill="#bf00bf">0.6</text>
<text x="875.8" y="283.35" font-size="39.5" fill="#bf00bf">0.4</text>
<text x="875.8" y="363.4" font-size="39.5" fill="#bf00bf">0.2</text>
<text x="178" y="1292.7" font-size="39.5" fill="#000" text-anchor="middle">0</text>
<text x="406.1" y="1292.7" font-size="39.5" fill="#000" text-anchor="middle" textLength="75.5" lengthAdjust="spacingAndGlyphs">2000</text>
<text x="634.5" y="1292.7" font-size="39.5" fill="#000" text-anchor="middle" textLength="75.5" lengthAdjust="spacingAndGlyphs">4000</text>
<text x="427.12" y="1344.2" font-size="39.5" fill="#000" textLength="88.65" lengthAdjust="spacingAndGlyphs">Time</text>
<text x="531.34" y="1344.2" font-size="39.5" fill="#000" textLength="32.77" lengthAdjust="spacingAndGlyphs">[s]</text>
<text x="78.4" y="334.58" font-size="39.5" fill="#000" textLength="107.65" lengthAdjust="spacingAndGlyphs" transform="rotate(-90 78.4 334.58)">C-rate</text>
<text x="78.4" y="211.83" font-size="39.5" fill="#000" textLength="119.06" lengthAdjust="spacingAndGlyphs" transform="rotate(-90 78.4 211.83)">[A/Ah]</text>
<text x="48.2" y="808.57" font-size="39.5" fill="#000" textLength="152.46" lengthAdjust="spacingAndGlyphs" transform="rotate(-90 48.2 808.57)">Terminal</text>
<text x="48.2" y="639.7" font-size="39.5" fill="#000" textLength="117.98" lengthAdjust="spacingAndGlyphs" transform="rotate(-90 48.2 639.7)">voltage</text>
<text x="48.2" y="506.68" font-size="39.5" fill="#000" textLength="47.23" lengthAdjust="spacingAndGlyphs" transform="rotate(-90 48.2 506.68)">[V]</text>
<text x="970.3" y="243" font-size="40.6" fill="#bf00bf" textLength="79.7" lengthAdjust="spacingAndGlyphs" transform="rotate(-90 970.3 243)">SOC</text>
<line x1="0.9" y1="1113.2" x2="38.7" y2="1113.2" stroke="#000000" stroke-width="2.4" stroke-linecap="butt"/>
<line x1="0.9" y1="1056.8" x2="38.7" y2="1056.8" stroke="#000000" stroke-width="2.4" stroke-linecap="butt"/>
<text x="29.5" y="1107.5" font-size="39.5" fill="#000" transform="rotate(-90 29.5 1107.5)" font-style="italic">e</text>
<text x="33.7" y="1088" font-size="26.5" fill="#000" transform="rotate(-90 33.7 1088)" font-style="italic">V</text>
<text x="30" y="1034.5" font-size="39.5" fill="#000" textLength="43" lengthAdjust="spacingAndGlyphs" transform="rotate(-90 30 1034.5)">[V]</text>
<rect x="166" y="624.7" width="281.4" height="170.8" rx="7.5" ry="7.5" fill="#fff" fill-opacity="0.8" stroke="#cccccc" stroke-width="3.8"/>
<line x1="181.3" y1="653" x2="257.6" y2="653" stroke="#000000" stroke-width="6.7" stroke-linecap="square"/>
<line x1="181.3" y1="706.1" x2="257.6" y2="706.1" stroke="#ff0000" stroke-width="6.7" stroke-dasharray="23.3 10.1"/>
<line x1="181.3" y1="759.3" x2="257.6" y2="759.3" stroke="#008000" stroke-width="6.7" stroke-dasharray="40.3 10.1 6.3 10.1"/>
<text x="287.97" y="666.6" font-size="39.5" fill="#000" textLength="84.08" lengthAdjust="spacingAndGlyphs">Data</text>
<text x="288.07" y="719.8" font-size="39.5" fill="#000" textLength="142.98" lengthAdjust="spacingAndGlyphs">Nominal</text>
<text x="287.97" y="773.3" font-size="39.5" fill="#000" textLength="104.24" lengthAdjust="spacingAndGlyphs">Fitted</text>
<rect x="166" y="871.7" width="444.3" height="117.8" rx="7.5" ry="7.5" fill="#fff" fill-opacity="0.8" stroke="#cccccc" stroke-width="3.8"/>
<line x1="181.3" y1="900.3" x2="257.6" y2="900.3" stroke="#ff0000" stroke-width="6.7" stroke-dasharray="23.3 10.1"/>
<line x1="181.3" y1="953.6" x2="257.6" y2="953.6" stroke="#008000" stroke-width="6.7" stroke-dasharray="40.3 10.1 6.3 10.1"/>
<text x="287.84" y="913.9" font-size="39.5" fill="#000" textLength="114.03" lengthAdjust="spacingAndGlyphs">RMSE</text>
<line x1="416.2" y1="899.8" x2="442.2" y2="899.8" stroke="#000000" stroke-width="1.7" stroke-linecap="butt"/>
<line x1="416.2" y1="908.4" x2="442.2" y2="908.4" stroke="#000000" stroke-width="1.7" stroke-linecap="butt"/>
<text x="457.31" y="913.9" font-size="39.5" fill="#000" textLength="135.95" lengthAdjust="spacingAndGlyphs">0.0231V</text>
<text x="287.84" y="967.2" font-size="39.5" fill="#000" textLength="114.03" lengthAdjust="spacingAndGlyphs">RMSE</text>
<line x1="416.2" y1="953.1" x2="442.2" y2="953.1" stroke="#000000" stroke-width="1.7" stroke-linecap="butt"/>
<line x1="416.2" y1="961.7" x2="442.2" y2="961.7" stroke="#000000" stroke-width="1.7" stroke-linecap="butt"/>
<text x="457.31" y="967.2" font-size="39.5" fill="#000" textLength="135.95" lengthAdjust="spacingAndGlyphs">0.0136V</text>
</svg></body></html>
